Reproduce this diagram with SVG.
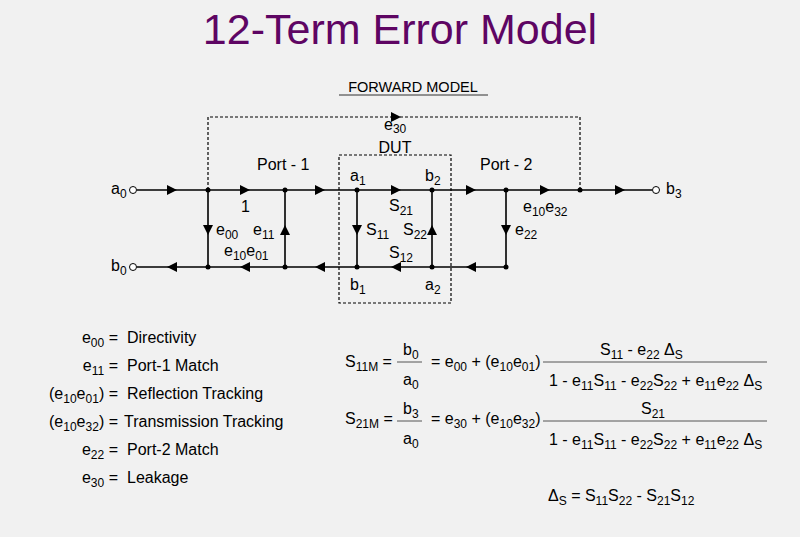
<svg xmlns="http://www.w3.org/2000/svg" width="800" height="537" viewBox="0 0 800 537">
<defs>
<style>
text{font-family:"Liberation Sans",Arial,sans-serif;font-size:16px;fill:#000}
.s{font-size:12px}
.ln{stroke:#000;stroke-width:1.6;fill:none}
.ds{stroke:#000;stroke-width:1.2;fill:none;stroke-dasharray:3,2}
.dot{fill:#000}
</style>
<path id="ar" d="M-5,-5 L5,0 L-5,5 Z" fill="#000"/>
</defs>
<rect width="800" height="537" fill="#f1f1f1"/>
<text x="400" y="44" text-anchor="middle" style="font-size:43px;fill:#5e0563">12-Term Error Model</text>
<text x="413" y="92" text-anchor="middle" style="font-size:14.5px">FORWARD MODEL</text>
<line x1="339" y1="95" x2="488" y2="95" stroke="#000" stroke-width="0.8"/>

<g id="dut"><rect x="339" y="155" width="112" height="148" fill="#fdfbe8" class="ds"/>
<text x="395" y="153" text-anchor="middle">DUT</text></g>

<g id="connectors">
<path class="ds" d="M208,190 V117 H580 V190"/>
<use href="#ar" x="396" y="117"/>
<path class="ln" d="M137,190 H652 M137,267 H506 M208,190 V267 M285,190 V267 M357,190 V267 M432,190 V267 M506,190 V267"/>
<use href="#ar" x="172" y="190"/><use href="#ar" x="245" y="190"/><use href="#ar" x="320" y="190"/><use href="#ar" x="396" y="190"/><use href="#ar" x="471" y="190"/><use href="#ar" x="545" y="190"/><use href="#ar" x="620" y="190"/>
<g transform="rotate(180)"><use href="#ar" x="-172" y="-267"/><use href="#ar" x="-245" y="-267"/><use href="#ar" x="-320" y="-267"/><use href="#ar" x="-396" y="-267"/><use href="#ar" x="-471" y="-267"/></g>
<use href="#ar" transform="translate(208,230) rotate(90)"/>
<use href="#ar" transform="translate(285,230) rotate(-90)"/>
<use href="#ar" transform="translate(357,230) rotate(90)"/>
<use href="#ar" transform="translate(432,230) rotate(-90)"/>
<use href="#ar" transform="translate(506,230) rotate(90)"/>
</g>
<g id="nodes">
<circle cx="133" cy="190" r="3.5" fill="#fff" stroke="#000"/><circle cx="133" cy="267" r="3.5" fill="#fff" stroke="#000"/><circle cx="656" cy="190" r="3.5" fill="#fff" stroke="#000"/>
<g class="dot"><circle cx="208" cy="190" r="2.5"/><circle cx="285" cy="190" r="2.5"/><circle cx="357" cy="190" r="2.5"/><circle cx="432" cy="190" r="2.5"/><circle cx="506" cy="190" r="2.5"/><circle cx="580" cy="190" r="2.5"/>
<circle cx="208" cy="267" r="2.5"/><circle cx="285" cy="267" r="2.5"/><circle cx="357" cy="267" r="2.5"/><circle cx="432" cy="267" r="2.5"/><circle cx="506" cy="267" r="2.5"/></g>
</g>
<g id="labels">
<text x="111" y="194">a<tspan class="s" dy="4">0</tspan></text>
<text x="111" y="271">b<tspan class="s" dy="4">0</tspan></text>
<text x="666" y="194">b<tspan class="s" dy="4">3</tspan></text>
<text x="384" y="130">e<tspan class="s" dy="3">30</tspan></text>
<text x="257" y="170">Port - 1</text>
<text x="480" y="170">Port - 2</text>
<text x="241" y="212">1</text>
<text x="216" y="235">e<tspan class="s" dy="4">00</tspan></text>
<text x="253" y="235">e<tspan class="s" dy="4">11</tspan></text>
<text x="224" y="256">e<tspan class="s" dy="4">10</tspan><tspan dy="-4">e</tspan><tspan class="s" dy="4">01</tspan></text>
<text x="350" y="181">a<tspan class="s" dy="4">1</tspan></text>
<text x="425" y="181">b<tspan class="s" dy="4">2</tspan></text>
<text x="350" y="290">b<tspan class="s" dy="4">1</tspan></text>
<text x="425" y="290">a<tspan class="s" dy="4">2</tspan></text>
<text x="389" y="211">S<tspan class="s" dy="4">21</tspan></text>
<text x="366" y="235">S<tspan class="s" dy="4">11</tspan></text>
<text x="403" y="235">S<tspan class="s" dy="4">22</tspan></text>
<text x="389" y="258">S<tspan class="s" dy="4">12</tspan></text>
<text x="523" y="212">e<tspan class="s" dy="4">10</tspan><tspan dy="-4">e</tspan><tspan class="s" dy="4">32</tspan></text>
<text x="515" y="235">e<tspan class="s" dy="4">22</tspan></text>
</g>
<g id="legend">
<text x="118" y="343" text-anchor="end">e<tspan class="s" dy="4">00</tspan><tspan dy="-4"> =</tspan></text>
<text x="118" y="371" text-anchor="end">e<tspan class="s" dy="4">11</tspan><tspan dy="-4"> =</tspan></text>
<text x="118" y="399" text-anchor="end">(e<tspan class="s" dy="4">10</tspan><tspan dy="-4">e</tspan><tspan class="s" dy="4">01</tspan><tspan dy="-4">) =</tspan></text>
<text x="118" y="427" text-anchor="end">(e<tspan class="s" dy="4">10</tspan><tspan dy="-4">e</tspan><tspan class="s" dy="4">32</tspan><tspan dy="-4">) =</tspan></text>
<text x="118" y="455" text-anchor="end">e<tspan class="s" dy="4">22</tspan><tspan dy="-4"> =</tspan></text>
<text x="118" y="483" text-anchor="end">e<tspan class="s" dy="4">30</tspan><tspan dy="-4"> =</tspan></text>
<text x="127" y="343">Directivity</text>
<text x="127" y="371">Port-1 Match</text>
<text x="127" y="399">Reflection Tracking</text>
<text x="124" y="427">Transmission Tracking</text>
<text x="127" y="455">Port-2 Match</text>
<text x="127" y="483">Leakage</text>
</g>
<g id="equations">
<text x="345" y="367">S<tspan class="s" dy="4">11M</tspan><tspan dy="-4"> =</tspan></text>
<line x1="397" y1="362" x2="422" y2="362" stroke="#555" stroke-width="1"/>
<text x="403" y="355">b<tspan class="s" dy="4">0</tspan></text>
<text x="403" y="385">a<tspan class="s" dy="4">0</tspan></text>
<text x="431" y="367">= e<tspan class="s" dy="4">00</tspan><tspan dy="-4"> + (e</tspan><tspan class="s" dy="4">10</tspan><tspan dy="-4">e</tspan><tspan class="s" dy="4">01</tspan><tspan dy="-4">)</tspan></text>
<line x1="543" y1="362" x2="767" y2="362" stroke="#555" stroke-width="1"/>
<text x="600" y="355">S<tspan class="s" dy="4">11</tspan><tspan dy="-4"> - e</tspan><tspan class="s" dy="4">22</tspan><tspan dy="-4"> Δ</tspan><tspan class="s" dy="4">S</tspan></text>
<text x="549" y="386">1 - e<tspan class="s" dy="4">11</tspan><tspan dy="-4">S</tspan><tspan class="s" dy="4">11</tspan><tspan dy="-4"> - e</tspan><tspan class="s" dy="4">22</tspan><tspan dy="-4">S</tspan><tspan class="s" dy="4">22</tspan><tspan dy="-4"> + e</tspan><tspan class="s" dy="4">11</tspan><tspan dy="-4">e</tspan><tspan class="s" dy="4">22</tspan><tspan dy="-4"> Δ</tspan><tspan class="s" dy="4">S</tspan></text>

<text x="345" y="424">S<tspan class="s" dy="4">21M</tspan><tspan dy="-4"> =</tspan></text>
<line x1="397" y1="421" x2="422" y2="421" stroke="#555" stroke-width="1"/>
<text x="403" y="414">b<tspan class="s" dy="4">3</tspan></text>
<text x="403" y="444">a<tspan class="s" dy="4">0</tspan></text>
<text x="431" y="424">= e<tspan class="s" dy="4">30</tspan><tspan dy="-4"> + (e</tspan><tspan class="s" dy="4">10</tspan><tspan dy="-4">e</tspan><tspan class="s" dy="4">32</tspan><tspan dy="-4">)</tspan></text>
<line x1="543" y1="421" x2="767" y2="421" stroke="#555" stroke-width="1"/>
<text x="641" y="414">S<tspan class="s" dy="4">21</tspan></text>
<text x="549" y="445">1 - e<tspan class="s" dy="4">11</tspan><tspan dy="-4">S</tspan><tspan class="s" dy="4">11</tspan><tspan dy="-4"> - e</tspan><tspan class="s" dy="4">22</tspan><tspan dy="-4">S</tspan><tspan class="s" dy="4">22</tspan><tspan dy="-4"> + e</tspan><tspan class="s" dy="4">11</tspan><tspan dy="-4">e</tspan><tspan class="s" dy="4">22</tspan><tspan dy="-4"> Δ</tspan><tspan class="s" dy="4">S</tspan></text>

<text x="548" y="501">Δ<tspan class="s" dy="4">S</tspan><tspan dy="-4"> = S</tspan><tspan class="s" dy="4">11</tspan><tspan dy="-4">S</tspan><tspan class="s" dy="4">22</tspan><tspan dy="-4"> - S</tspan><tspan class="s" dy="4">21</tspan><tspan dy="-4">S</tspan><tspan class="s" dy="4">12</tspan></text>
</g>
</svg>
